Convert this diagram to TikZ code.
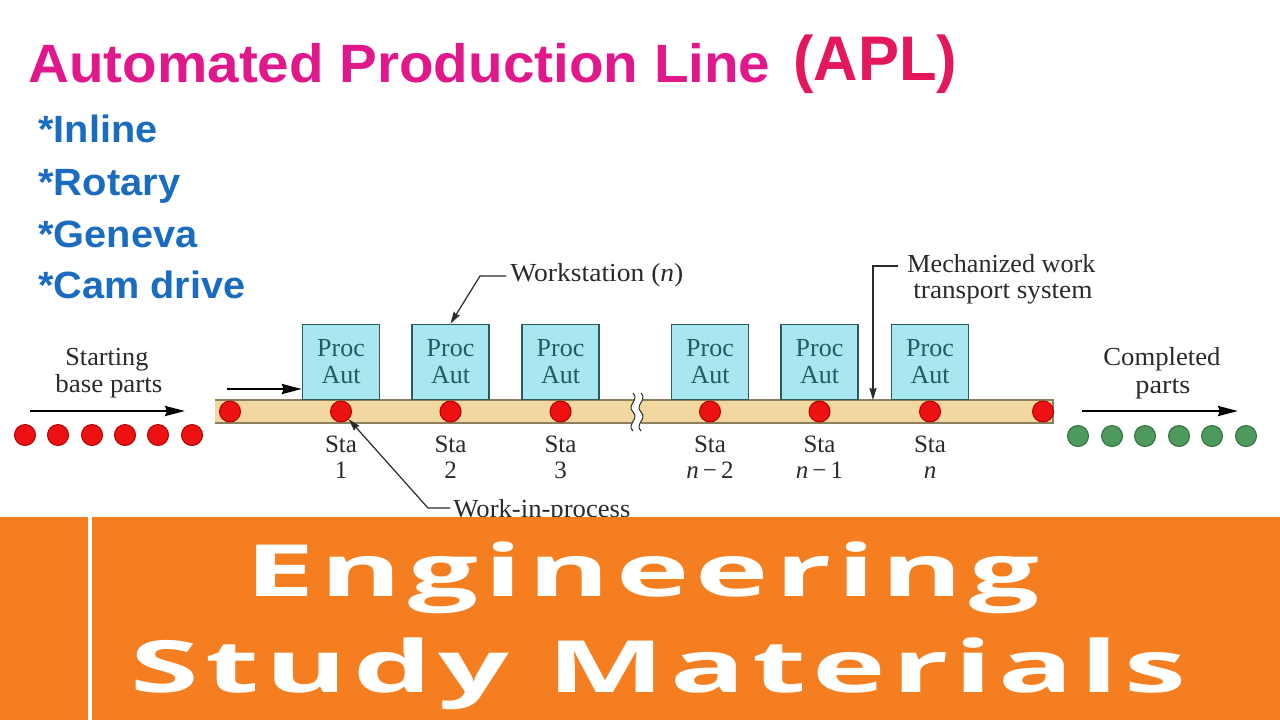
\documentclass[tikz,border=0pt]{standalone}
\usepackage{fontspec}
\setmainfont{Liberation Serif}
\newfontfamily\arialf{Liberation Sans}
\newfontfamily\osans{Open Sans}[LetterSpace=5]
\usetikzlibrary{arrows.meta}
\definecolor{titlemag}{HTML}{E0188C}
\definecolor{aplred}{HTML}{E4165E}
\definecolor{listblue}{HTML}{1A6CC0}
\definecolor{boxfill}{HTML}{A8E6F0}
\definecolor{boxline}{HTML}{2F5A5A}
\definecolor{boxtext}{HTML}{1E5E60}
\definecolor{barfill}{HTML}{F0D8A0}
\definecolor{barline}{HTML}{8A8060}
\definecolor{dotred}{HTML}{EE1111}
\definecolor{dotredline}{HTML}{B00000}
\definecolor{dotgreen}{HTML}{4E9A5C}
\definecolor{dotgreenline}{HTML}{2E6E3C}
\definecolor{bandorange}{HTML}{F57F20}
\definecolor{labelgray}{HTML}{2A2A2A}
\newlength\fitlen
\newcommand\fitbox[2]{\settowidth\fitlen{#2}\pgfmathsetmacro\fitr{(#1)/\fitlen}\scalebox{\fitr}[1]{#2}}
\begin{document}
\begin{tikzpicture}[x=0.5pt,y=-0.5pt,
  txt/.style={inner sep=0pt, anchor=base west},
  ctxt/.style={inner sep=0pt, anchor=base, text=labelgray, font=\fontsize{12.5}{14}\selectfont},
  lbl/.style={inner sep=0pt, anchor=base west, text=labelgray, font=\fontsize{13}{15}\selectfont},
  listitem/.style={inner sep=0pt, anchor=base west, text=listblue},
  stabox/.style={draw=boxline, line width=0.7pt, fill=boxfill, minimum width=38.5pt, minimum height=37.5pt,
     inner sep=0pt, anchor=south, align=center, text=boxtext, font=\fontsize{13}{13.5}\selectfont},
  reddot/.style={circle, draw=dotredline, line width=0.5pt, fill=dotred, minimum size=10.5pt, inner sep=0pt},
  greendot/.style={circle, draw=dotgreenline, line width=0.5pt, fill=dotgreen, minimum size=10.5pt, inner sep=0pt},
  flow/.style={line width=1.3pt, -{Stealth[length=10pt, width=5pt, inset=1pt]}},
  leader/.style={line width=0.6pt, draw=labelgray, -{Stealth[length=6pt, width=3.5pt, inset=0.6pt]}}
]
\useasboundingbox[fill=white] (0,0) rectangle (1280,720);

% title
\node[txt, text=titlemag] (title) at (28,82) {\fitbox{371}{\arialf\bfseries\fontsize{27}{30}\selectfont Automated Production Line}};
\node[txt, text=aplred] (apl) at (793,80) {\fitbox{82}{\arialf\bfseries\fontsize{31.5}{34}\selectfont (APL)}};

% list
\node[listitem] (l1) at (38,142) {\fitbox{59.5}{\arialf\bfseries\fontsize{19}{22}\selectfont *Inline}};
\node[listitem] (l2) at (38,195) {\fitbox{71}{\arialf\bfseries\fontsize{19}{22}\selectfont *Rotary}};
\node[listitem] (l3) at (38,247) {\fitbox{79.5}{\arialf\bfseries\fontsize{19}{22}\selectfont *Geneva}};
\node[listitem] (l4) at (38,298) {\fitbox{103.5}{\arialf\bfseries\fontsize{19}{22}\selectfont *Cam drive}};

% conveyor bar
\fill[barfill] (215,400) rectangle (1053,423);
\draw[barline, line width=0.6pt] (215,400) -- (634,400) (641,400) -- (1053,400) -- (1053,423) -- (641,423) (634,423) -- (215,423) -- cycle;
% break
\fill[white] (633,393) .. controls (640,400) and (626,405) .. (633,412) .. controls (640,419) and (626,424) .. (633,431)
  -- (641,431) .. controls (634,424) and (648,419) .. (641,412) .. controls (634,405) and (648,400) .. (641,393) -- cycle;
\draw[labelgray, line width=0.5pt] (633,393) .. controls (640,400) and (626,405) .. (633,412) .. controls (640,419) and (626,424) .. (633,431);
\draw[labelgray, line width=0.5pt] (641,393) .. controls (648,400) and (634,405) .. (641,412) .. controls (648,419) and (634,424) .. (641,431);

% stations
\node[stabox] (s1) at (341,400) {Proc\\Aut};
\node[stabox] (s2) at (450.5,400) {Proc\\Aut};
\node[stabox] (s3) at (560.5,400) {Proc\\Aut};
\node[stabox] (s4) at (710,400) {Proc\\Aut};
\node[stabox] (s5) at (819.5,400) {Proc\\Aut};
\node[stabox] (s6) at (930,400) {Proc\\Aut};

% work parts on conveyor
\node[reddot] (w0) at (230,411.5) {};
\node[reddot] (w1) at (341,411.5) {};
\node[reddot] (w2) at (450.5,411.5) {};
\node[reddot] (w3) at (560.5,411.5) {};
\node[reddot] (w4) at (710,411.5) {};
\node[reddot] (w5) at (819.5,411.5) {};
\node[reddot] (w6) at (930,411.5) {};
\node[reddot] (w7) at (1043,411.5) {};

% station labels
\node[ctxt] (t1a) at (341,452) {Sta};     \node[ctxt] (t1b) at (341,478) {1};
\node[ctxt] (t2a) at (450.5,452) {Sta};   \node[ctxt] (t2b) at (450.5,478) {2};
\node[ctxt] (t3a) at (560.5,452) {Sta};   \node[ctxt] (t3b) at (560.5,478) {3};
\node[ctxt] (t4a) at (710,452) {Sta};     \node[ctxt] (t4b) at (710,478) {\textit{n}\,−\,2};
\node[ctxt] (t5a) at (819.5,452) {Sta};   \node[ctxt] (t5b) at (819.5,478) {\textit{n}\,−\,1};
\node[ctxt] (t6a) at (930,452) {Sta};     \node[ctxt] (t6b) at (930,478) {\textit{n}};

% starting parts
\node[lbl] (st1) at (65,365) {\fitbox{41.5}{Starting}};
\node[lbl] (st2) at (55,392) {\fitbox{53.5}{base parts}};
\coordinate (sa1) at (30,411);
\coordinate (sa2) at (185,411);
\draw[flow] (sa1) -- (sa2);
\coordinate (ia1) at (227,389);
\draw[flow] (ia1) -- (s1.west |- ia1);
\foreach \i/\x in {1/25,2/58,3/92,4/125,5/158,6/192}{
  \node[reddot] (r\i) at (\x,435) {};
}

% completed parts
\node[lbl] (cp1) at (1103,365) {\fitbox{58.5}{Completed}};
\node[lbl] (cp2) at (1135,393) {\fitbox{27.5}{parts}};
\coordinate (ca1) at (1082,411);
\coordinate (ca2) at (1238,411);
\draw[flow] (ca1) -- (ca2);
\foreach \i/\x in {1/1078,2/1112,3/1145,4/1179,5/1212,6/1246}{
  \node[greendot] (g\i) at (\x,436) {};
}

% workstation leader
\node[lbl] (wsl) at (510,281) {\fitbox{86.5}{Workstation (\textit{n})}};
\coordinate (wsk) at (480,276);
\draw[leader] (wsl.base west |- wsk) ++(-4,0) -- (wsk) -- (s2.north);

% mechanized leader
\node[lbl] (mw1) at (907,272) {\fitbox{94}{Mechanized work}};
\node[lbl] (mw2) at (913,298) {\fitbox{89.5}{transport system}};
\coordinate (mwk) at (873,266);
\coordinate (mwt) at (873,400);
\draw[leader] (898,266) -- (mwk) -- (mwt);

% work-in-process leader
\node[lbl] (wip) at (453,517) {\fitbox{88.5}{Work-in-process}};
\coordinate (wipk) at (428,508);
\draw[leader] (450,508) -- (wipk) -- (w1.south east);

% bottom band
\fill[bandorange] (0,517) rectangle (1280,720);
\draw[white, line width=2pt] (90,517) -- (90,720);
\node[txt, text=white] (eng) at (245,596) {\fitbox{397}{\osans\bfseries\fontsize{36}{40}\selectfont Engineering}};
\node[txt, text=white] (stm) at (130,692) {\fitbox{528}{\osans\bfseries\fontsize{36}{40}\selectfont Study Materials}};
\end{tikzpicture}
\end{document}
